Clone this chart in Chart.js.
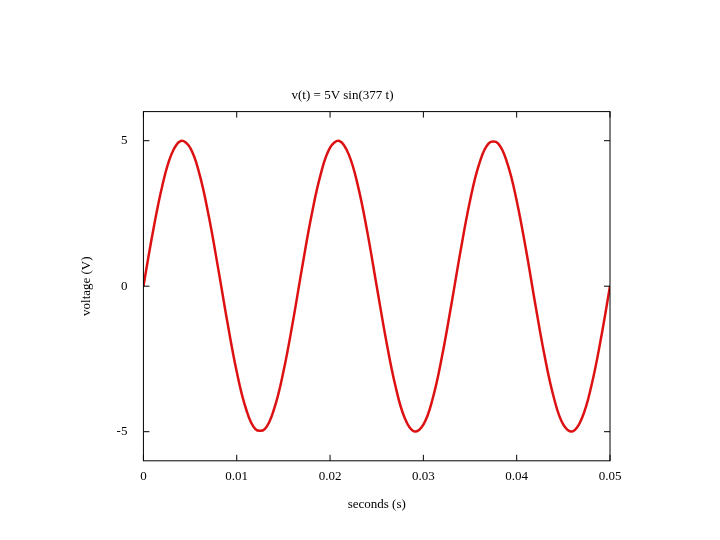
<!DOCTYPE html>
<html>
<head>
<meta charset="UTF-8" />
<script src="https://cdn.jsdelivr.net/npm/chart.js"></script>
<style>
  body { margin: 0; background: #fff; }
  #wrap { width: 720px; height: 540px; }
</style>
</head>
<body>
<div id="wrap"><canvas id="c"></canvas></div>
<script>
const times = [0,0.001,0.002,0.003,0.004,0.005,0.006,0.007,0.008,0.009,0.010,0.011,0.012,0.013,0.014,0.015,0.016,0.017,0.018,0.019,0.020,0.021,0.022,0.023,0.024,0.025,0.026,0.027,0.028,0.029,0.030,0.031,0.032,0.033,0.034,0.035,0.036,0.037,0.038,0.039,0.040,0.041,0.042,0.043,0.044,0.045,0.046,0.047,0.048,0.049,0.050];
const volts = [0,1.84,3.42,4.53,4.99,4.76,3.86,2.41,0.63,-1.24,-2.94,-4.22,-4.91,-4.91,-4.22,-2.94,-1.25,0.63,2.41,3.85,4.76,4.99,4.53,3.43,1.85,0,-1.84,-3.42,-4.53,-4.99,-4.76,-3.86,-2.41,-0.63,1.24,2.94,4.22,4.91,4.91,4.22,2.94,1.25,-0.63,-2.41,-3.85,-4.76,-4.99,-4.53,-3.43,-1.85,0];
const xTicks = [0,0.01,0.02,0.03,0.04,0.05];
const yTicks = [-5,0,5];

const font = { family: 'Liberation Serif', size: 13 };

// inward tick marks on all four sides of the box
const innerTicks = {
  id: 'innerTicks',
  afterDraw(chart) {
    const { ctx, chartArea: a, scales } = chart;
    ctx.save();
    ctx.strokeStyle = '#000';
    ctx.lineWidth = 1;
    ctx.strokeRect(a.left, a.top, a.right - a.left, a.bottom - a.top);
    ctx.beginPath();
    xTicks.forEach(v => {
      const x = scales.x.getPixelForValue(v);
      ctx.moveTo(x, a.bottom); ctx.lineTo(x, a.bottom - 6);
      ctx.moveTo(x, a.top); ctx.lineTo(x, a.top + 6);
    });
    yTicks.forEach(v => {
      const y = scales.y.getPixelForValue(v);
      ctx.moveTo(a.left, y); ctx.lineTo(a.left + 6, y);
      ctx.moveTo(a.right, y); ctx.lineTo(a.right - 6, y);
    });
    ctx.stroke();
    ctx.restore();
  }
};

new Chart(document.getElementById('c'), {
  type: 'line',
  data: {
    datasets: [{
      data: times.map((t, i) => ({ x: t, y: volts[i] })),
      borderColor: '#dd1111',
      borderWidth: 2.5,
      pointRadius: 0,
      tension: 0.4
    }]
  },
  options: {
    responsive: true,
    maintainAspectRatio: false,
    animation: false,
    layout: { padding: { left: 75, right: 110, top: 88, bottom: 24 } },
    plugins: {
      legend: { display: false },
      title: { display: true, text: 'v(t) = 5V sin(377 t)', color: '#000', font: { family: 'Liberation Serif', size: 13, weight: 'normal' }, padding: { top: 0, bottom: 8 } }
    },
    scales: {
      x: {
        type: 'linear', min: 0, max: 0.05,
        afterBuildTicks: s => { s.ticks = xTicks.map(v => ({ value: v })); },
        ticks: { color: '#000', font: font, padding: 0, callback: v => String(+v.toFixed(2)) },
        grid: { display: false },
        border: { display: false },
        title: { display: true, text: 'seconds (s)', color: '#000', font: font, padding: { top: 12 } }
      },
      y: {
        min: -6, max: 6,
        afterBuildTicks: s => { s.ticks = yTicks.map(v => ({ value: v })); },
        ticks: { color: '#000', font: font, padding: 8 },
        grid: { display: false },
        border: { display: false },
        title: { display: true, text: 'voltage (V)', color: '#000', font: font, padding: { bottom: 14 } }
      }
    }
  },
  plugins: [innerTicks]
});
</script>
</body>
</html>
